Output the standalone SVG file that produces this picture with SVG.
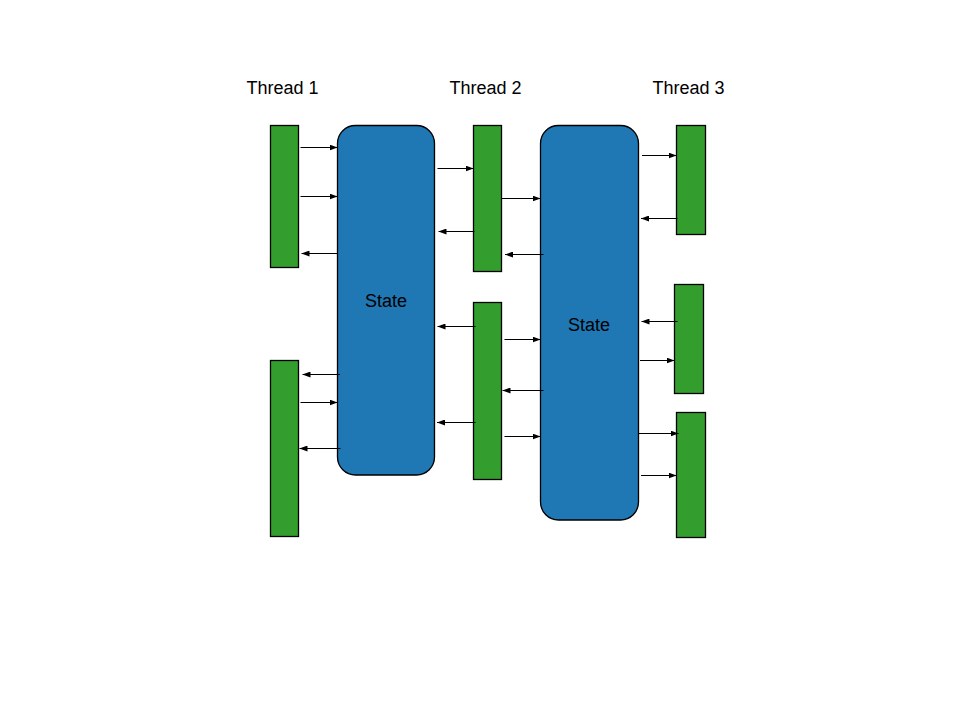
<svg xmlns="http://www.w3.org/2000/svg" width="960" height="720" viewBox="0 0 960 720">
<style>
.bar{fill:#339e2d;stroke:#000;stroke-width:1.3}
.state{fill:#1f77b4;stroke:#000;stroke-width:1.3}
.t{font-family:"Liberation Sans",Arial,sans-serif;font-size:18px;fill:#000;text-anchor:middle}
.c{stroke:#000;stroke-width:1.2;fill:none;marker-end:url(#ah)}
</style>
<defs>
<marker id="ah" viewBox="0 0 8 6" refX="8" refY="3" markerWidth="8" markerHeight="6" markerUnits="userSpaceOnUse" orient="auto">
<path d="M0,0 L8,3 L0,6 Z" fill="#000"/>
</marker>
</defs>
<rect width="960" height="720" fill="#fff"/>
<g id="titles">
<text class="t" x="282.5" y="94">Thread 1</text>
<text class="t" x="485.5" y="94">Thread 2</text>
<text class="t" x="688.5" y="94">Thread 3</text>
</g>
<g id="state1"><rect class="state" x="337.5" y="125.5" width="97" height="349.5" rx="18"/><text class="t" x="386" y="307">State</text></g>
<g id="state2"><rect class="state" x="540.5" y="125.5" width="98" height="394.5" rx="18"/><text class="t" x="589" y="331">State</text></g>
<g id="t1a"><rect class="bar" x="270.5" y="125.5" width="28" height="142"/></g>
<g id="t1b"><rect class="bar" x="270.5" y="360.5" width="28" height="176"/></g>
<g id="t2a"><rect class="bar" x="473.5" y="125.5" width="28" height="146"/></g>
<g id="t2b"><rect class="bar" x="473.5" y="302.5" width="28" height="177"/></g>
<g id="t3a"><rect class="bar" x="676.5" y="125.5" width="29" height="109"/></g>
<g id="t3b"><rect class="bar" x="674.5" y="284.5" width="29" height="109"/></g>
<g id="t3c"><rect class="bar" x="676.5" y="412.5" width="29" height="125"/></g>
<g id="connectors">
<line class="c" x1="300.5" y1="147.5" x2="337.5" y2="147.5"/>
<line class="c" x1="300.5" y1="196.5" x2="337.5" y2="196.5"/>
<line class="c" x1="338" y1="253.5" x2="301.5" y2="253.5"/>
<line class="c" x1="340" y1="374.5" x2="302.5" y2="374.5"/>
<line class="c" x1="300.5" y1="402.5" x2="337.5" y2="402.5"/>
<line class="c" x1="340.5" y1="448.5" x2="299.5" y2="448.5"/>
<line class="c" x1="437.5" y1="168.5" x2="473.5" y2="168.5"/>
<line class="c" x1="474.5" y1="231.5" x2="438.5" y2="231.5"/>
<line class="c" x1="475.5" y1="326.5" x2="437.5" y2="326.5"/>
<line class="c" x1="475.5" y1="422.5" x2="437" y2="422.5"/>
<line class="c" x1="501.5" y1="198.5" x2="540.5" y2="198.5"/>
<line class="c" x1="543.5" y1="254.5" x2="505" y2="254.5"/>
<line class="c" x1="504.5" y1="339.5" x2="540.5" y2="339.5"/>
<line class="c" x1="543.5" y1="390.5" x2="502.5" y2="390.5"/>
<line class="c" x1="504.5" y1="436.5" x2="540.5" y2="436.5"/>
<line class="c" x1="642" y1="155.5" x2="676.5" y2="155.5"/>
<line class="c" x1="677.5" y1="218.5" x2="641" y2="218.5"/>
<line class="c" x1="677.5" y1="321.5" x2="641.5" y2="321.5"/>
<line class="c" x1="640" y1="360.5" x2="674.5" y2="360.5"/>
<line class="c" x1="639" y1="433.5" x2="678.5" y2="433.5"/>
<line class="c" x1="641" y1="475.5" x2="676.5" y2="475.5"/>
</g>
</svg>
